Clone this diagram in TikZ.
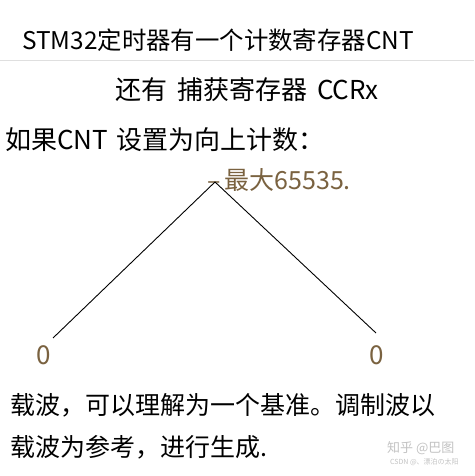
\documentclass[tikz,border=0pt]{standalone}
\usepackage{fontspec}
\setmainfont{Noto Sans CJK SC}
\definecolor{inkbrown}{RGB}{122,98,64}
\definecolor{wm}{RGB}{195,195,195}
\tikzset{
  hand/.style={anchor=west, inner sep=0pt, font=\fontsize{25}{28}\selectfont, text=black},
  brownhand/.style={hand, text=inkbrown},
  zero/.style={inner sep=0pt, font=\fontsize{26}{28}\selectfont, text=inkbrown},
  wave/.style={draw=black, line width=0.9pt},
  wmark/.style={inner sep=0pt, text=wm}
}
\begin{document}
\begin{tikzpicture}[x=1pt,y=1pt]
\useasboundingbox[fill=white] (0,0) rectangle (474,476);
\draw[gray!25, line width=0.6pt] (0,416) -- (474,416);
\node[hand, font=\fontsize{24.4}{28}\selectfont] (t1) at (22,436) {STM32定时器有一个计数寄存器CNT};
\node[hand, font=\fontsize{26}{28}\selectfont] (t2) at (115,386) {还有\hspace{10pt}捕获寄存器\hspace{10pt}CCRx};
\node[hand, font=\fontsize{26}{28}\selectfont] (t3) at (5,336) {如果CNT\hspace{8pt}设置为向上计数：};
\node[brownhand] (mx) at (207,296) {–\hspace{4pt}最大65535.};
\coordinate (apex) at (215,294);
\coordinate (lend) at (53,138);
\coordinate (rend) at (376,143);
\draw[wave] (lend) -- (apex) -- (rend);
\node[zero] (z1) at (44,121) {0};
\node[zero] (z2) at (377,121) {0};
\node[hand] (b1) at (10,71) {载波，可以理解为一个基准。调制波以};
\node[hand] (b2) at (10,29) {载波为参考，进行生成.};
\node[wmark, font=\fontsize{13}{14}\selectfont, anchor=west] (w1) at (387,28) {知乎 @巴图};
\node[wmark, font=\fontsize{7}{8}\selectfont, anchor=west] (w2) at (390,14) {CSDN @、漂泊の太阳};
\end{tikzpicture}
\end{document}
